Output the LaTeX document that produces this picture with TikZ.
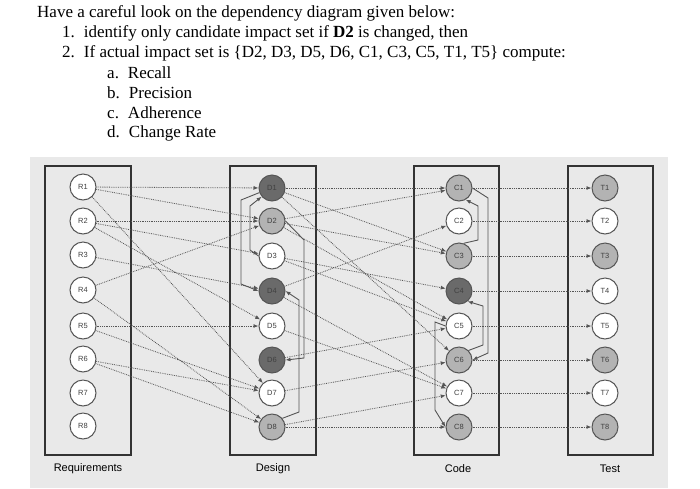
\documentclass[tikz,border=0pt]{standalone}
\usepackage{fontspec}
\setmainfont{Liberation Serif}
\newfontfamily\lsans{Liberation Sans}
\usetikzlibrary{arrows.meta}
\definecolor{bgc}{HTML}{E9E9E9}
\definecolor{dk}{HTML}{6A6A6A}
\definecolor{lt}{HTML}{B3B3B3}
\definecolor{ln}{HTML}{555555}
\begin{document}
\begin{tikzpicture}[x=1pt,y=-1pt,
  nd/.style={circle,draw=ln,line width=1pt,fill=white,minimum size=26pt,inner sep=0pt,font=\lsans\fontsize{7.5}{7.5}\selectfont,text=black!75},
  dkn/.style={nd,fill=dk},
  ltn/.style={nd,fill=lt},
  dep/.style={densely dotted,line width=0.8pt,draw=ln,-{Latex[length=5pt,width=4pt]}},
  sol/.style={line width=0.9pt,draw=ln,-{Latex[length=5pt,width=4pt]}},
  box/.style={draw=black!80,line width=1.1pt},
  lab/.style={font=\lsans\fontsize{11}{11}\selectfont},
  txt/.style={anchor=west,font=\fontsize{17}{19}\selectfont,inner sep=0pt}]
\useasboundingbox (0,0) rectangle (700,488);
\fill[bgc] (30,157) rectangle (668,488);
\node[txt] (l0) at (37,13) {Have a careful look on the dependency diagram given below:};
\node[txt] (l1) at (62,33) {1.\hspace{9pt}identify only candidate impact set if \textbf{D2} is changed, then};
\node[txt] (l2) at (62,53) {2.\hspace{9pt}If actual impact set is \{D2, D3, D5, D6, C1, C3, C5, T1, T5\} compute:};
\node[txt] (la) at (107,73) {a.\hspace{9pt}Recall};
\node[txt] (lb) at (107,93) {b.\hspace{9pt}Precision};
\node[txt] (lc) at (107,113) {c.\hspace{9pt}Adherence};
\node[txt] (ld) at (107,133) {d.\hspace{9pt}Change Rate};
\draw[box] (45,166) rectangle (131,455);
\draw[box] (230,166) rectangle (316,455);
\draw[box] (414,166) rectangle (499,455);
\draw[box] (568,166) rectangle (653,455);
\node[lab] (Lr) at (88,469) {Requirements};
\node[lab] (Ld) at (273,469) {Design};
\node[lab] (Lc) at (458,469) {Code};
\node[lab] (Lt) at (610,469) {Test};
% rows
\foreach \i/\y in {1/187,2/221,3/255,4/290,5/326,6/359,7/393,8/426}{
  \node[nd] (R\i) at (83,\y) {R\i};
}
\node[dkn] (D1) at (272,188) {D1};
\node[ltn] (D2) at (272,221) {D2};
\node[nd]  (D3) at (272,256) {D3};
\node[dkn] (D4) at (272,291) {D4};
\node[nd]  (D5) at (272,326) {D5};
\node[dkn] (D6) at (272,360) {D6};
\node[nd]  (D7) at (272,393) {D7};
\node[ltn] (D8) at (272,427) {D8};
\node[ltn] (C1) at (459,188) {C1};
\node[nd]  (C2) at (459,221) {C2};
\node[ltn] (C3) at (459,256) {C3};
\node[dkn] (C4) at (459,291) {C4};
\node[nd]  (C5) at (459,326) {C5};
\node[ltn] (C6) at (459,360) {C6};
\node[nd]  (C7) at (459,393) {C7};
\node[ltn] (C8) at (459,427) {C8};
\node[ltn] (T1) at (605,188) {T1};
\node[nd]  (T2) at (605,221) {T2};
\node[ltn] (T3) at (605,256) {T3};
\node[nd]  (T4) at (605,291) {T4};
\node[nd]  (T5) at (605,326) {T5};
\node[ltn] (T6) at (605,360) {T6};
\node[nd]  (T7) at (605,393) {T7};
\node[ltn] (T8) at (605,427) {T8};
% R -> D
\foreach \a/\b in {R1/D1,R1/D2,R1/D7,R2/D2,R2/D3,R2/D5,R3/D4,R4/D2,R4/D8,R5/D5,R5/D7,R6/D7,R6/D8}
  \draw[dep] (\a) -- (\b);
% D -> C
\foreach \a/\b in {D1/C1,D1/C3,D1/C6,D2/C1,D2/C3,D2/C5,D3/C4,D3/C5,D4/C2,D4/C7,D5/C7,D6/C5,D7/C6,D8/C7,D8/C8}
  \draw[dep] (\a) -- (\b);
% C -> T
\foreach \i in {1,...,8}
  \draw[dep] (C\i) -- (T\i);
% solid intra-layer dependencies
\draw[sol] (D1.200) -- (241,200) -- (241,284) -- (D4.west);
\draw[sol] (D3.west) -- (250,250) -- (250,206) -- (D1.220);
\draw[sol] (D2.east) -- (304,240) -- (304,358) -- (D6.east);
\draw[sol] (D8.40) -- (299,412) -- (299,300) -- (D4.east);
\draw[sol] (C3.70) -- (478,240) -- (478,206) -- (C1.300);
\draw[sol] (C1.east) -- (488,198) -- (488,353) -- (C6.east);
\draw[sol] (C6.45) -- (483,345) -- (483,306) -- (C4.310);
\draw[sol] (C5.west) -- (435,322) -- (435,410) -- (C8.west);
\end{tikzpicture}
\end{document}
